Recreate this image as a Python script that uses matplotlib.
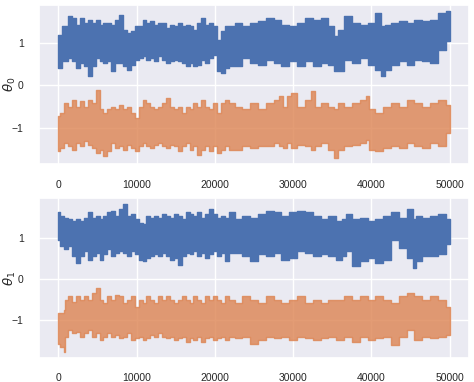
import matplotlib
matplotlib.use("Agg")
import matplotlib.pyplot as plt
import numpy as np
import seaborn as sns

# chain colours (seaborn "deep", orange drawn with alpha)
CHAIN_COLORS = ["#4C72B0", "#DD8452"]
CHAIN_ALPHA = [1.0, 0.8]

# ---- theta_0, chain A (blue) ----
t0a_step = [0, 1000, 1500, 2000, 2500, 3000, 3500, 4000, 4500, 5000, 5500, 6000, 6500, 7000,
            7500, 8000, 8500, 9000, 9500, 10000, 10500, 11000, 11500, 12000, 12500, 13000,
            13500, 14000, 14500, 15000, 15500, 16000, 16500, 17000, 17500, 18000, 18500,
            19000, 19500, 20000, 20500, 21000, 21500, 22000,
            23000, 24000, 25000, 26000, 27000, 28000, 29000, 30000, 31000, 32000, 33000,
            34000, 35000, 35500, 36000, 37000, 38000, 39000, 40000, 41000, 41500, 42000,
            43000, 44000, 45000, 46000, 47000, 48000, 49000, 50000]
t0a_hi = [1.20, 1.40, 1.63, 1.60, 1.43, 1.59, 1.47, 1.55, 1.47, 1.55,
          1.43, 1.47, 1.47, 1.43, 1.55, 1.67, 1.32, 1.24, 1.28, 1.40,
          1.40, 1.55, 1.47, 1.51, 1.43, 1.47, 1.47, 1.35, 1.43, 1.40,
          1.47, 1.40, 1.43, 1.40, 1.32, 1.47, 1.59, 1.43, 1.47, 1.40,
          1.08, 1.28, 1.40, 1.40,
          1.47, 1.40, 1.47, 1.51, 1.59, 1.55, 1.43, 1.40, 1.47, 1.59, 1.55, 1.59, 1.40,
          1.16, 1.32, 1.63, 1.47, 1.43, 1.47, 1.71, 1.40,
          1.43, 1.47, 1.51, 1.47, 1.55, 1.51, 1.55, 1.71, 1.75]
t0a_lo = [0.41, 0.57, 0.65, 0.57, 0.41, 0.53, 0.45, 0.21, 0.45, 0.65,
          0.57, 0.53, 0.57, 0.33, 0.53, 0.53, 0.45, 0.37, 0.49, 0.61,
          0.65, 0.69, 0.61, 0.65, 0.57, 0.69, 0.61, 0.53, 0.57, 0.61,
          0.57, 0.53, 0.45, 0.53, 0.45, 0.49, 0.61, 0.53, 0.65, 0.72,
          0.33, 0.29, 0.41, 0.45,
          0.45, 0.65, 0.53, 0.49, 0.61, 0.53, 0.45, 0.57, 0.45, 0.57, 0.45, 0.53, 0.49,
          0.33, 0.33, 0.61, 0.53, 0.65, 0.49, 0.37, 0.21,
          0.37, 0.49, 0.57, 0.49, 0.61, 0.57, 0.53, 0.84, 1.04]

# ---- theta_0, chain B (orange) ----
t0b_step = list(range(0, 22001, 500)) + [
    23000, 24000, 25000, 26000, 27000, 28000, 28500, 29000, 29500, 30000, 31000, 32000,
    32500, 33000, 34000, 35000, 35500, 36000, 37000, 38000, 39000, 39500, 40000, 41000,
    42000, 43000, 44000, 45000, 46000, 47000, 48000, 49000, 50000]
t0b_hi = [-0.73, -0.65, -0.42, -0.50, -0.34, -0.50, -0.38, -0.50, -0.34, -0.42,
          -0.10, -0.57, -0.65, -0.57, -0.50, -0.57, -0.46, -0.57, -0.50, -0.65,
          -0.77, -0.50, -0.34, -0.42, -0.50, -0.57, -0.50, -0.42, -0.30, -0.50,
          -0.57, -0.50, -0.65, -0.50, -0.57, -0.42, -0.50, -0.34, -0.50, -0.57,
          -0.42, -0.65, -0.42, -0.34, -0.42,
          -0.50, -0.57, -0.42, -0.57, -0.42, -0.34, -0.26, -0.50, -0.26, -0.18, -0.50,
          -0.34, -0.14, -0.50, -0.42, -0.50, -0.57, -0.42, -0.50, -0.42, -0.34, -0.26,
          -0.57, -0.65, -0.50, -0.42, -0.50, -0.34, -0.42, -0.50, -0.42, -0.34, -0.46]
t0b_lo = [-1.56, -1.48, -1.36, -1.44, -1.52, -1.36, -1.44, -1.32, -1.40, -1.48,
          -1.60, -1.52, -1.68, -1.56, -1.36, -1.48, -1.44, -1.52, -1.40, -1.48,
          -1.56, -1.44, -1.36, -1.44, -1.48, -1.40, -1.36, -1.44, -1.48, -1.40,
          -1.44, -1.56, -1.44, -1.36, -1.52, -1.44, -1.64, -1.52, -1.44, -1.56,
          -1.44, -1.60, -1.52, -1.44, -1.52,
          -1.52, -1.44, -1.48, -1.44, -1.44, -1.36, -1.44, -1.48, -1.36, -1.48, -1.40,
          -1.44, -1.52, -1.44, -1.36, -1.52, -1.72, -1.52, -1.44, -1.40, -1.36, -1.28,
          -1.52, -1.56, -1.48, -1.44, -1.48, -1.36, -1.44, -1.48, -1.36, -1.44, -1.13]

# ---- theta_1, chain A (blue) ----
t1a_step = list(range(0, 22001, 500)) + [
    23000, 24000, 25000, 26000, 27000, 28000, 29000, 30000, 31000, 32000, 33000, 34000,
    35000, 36000, 36500, 37000, 38000, 39000, 40000, 41000, 42000, 43000, 44000, 45000,
    45500, 46000, 47000, 48000, 49000, 50000]
t1a_hi = [1.62, 1.53, 1.49, 1.45, 1.41, 1.45, 1.41, 1.49, 1.62, 1.49,
          1.53, 1.45, 1.53, 1.62, 1.66, 1.53, 1.70, 1.82, 1.53, 1.58,
          1.45, 1.37, 1.33, 1.53, 1.49, 1.53, 1.49, 1.58, 1.53, 1.49,
          1.58, 1.53, 1.45, 1.62, 1.58, 1.53, 1.62, 1.49, 1.58, 1.70,
          1.58, 1.49, 1.53, 1.49, 1.62,
          1.45, 1.53, 1.49, 1.58, 1.66, 1.62, 1.53, 1.62, 1.66, 1.62, 1.53, 1.45,
          1.53, 1.41, 1.45, 1.58, 1.45, 1.49, 1.41, 1.45, 1.53, 1.62, 1.49, 1.70,
          1.45, 1.53, 1.49, 1.53, 1.58, 1.45]
t1a_lo = [0.96, 0.80, 0.72, 0.80, 0.56, 0.39, 0.56, 0.68, 0.47, 0.56,
          0.64, 0.47, 0.60, 0.72, 0.56, 0.64, 0.68, 0.64, 0.56, 0.68,
          0.60, 0.47, 0.43, 0.51, 0.56, 0.60, 0.56, 0.64, 0.56, 0.47,
          0.51, 0.35, 0.56, 0.64, 0.60, 0.68, 0.56, 0.64, 0.51, 0.60,
          0.68, 0.56, 0.64, 0.43, 0.64,
          0.64, 0.56, 0.43, 0.60, 0.56, 0.64, 0.47, 0.51, 0.68, 0.64, 0.56, 0.60,
          0.56, 0.47, 0.56, 0.68, 0.31, 0.43, 0.51, 0.39, 0.47, 0.96, 0.76, 0.51,
          0.27, 0.43, 0.56, 0.56, 0.60, 0.84]

# ---- theta_1, chain B (orange) ----
t1b_step = [0, 500, 800] + list(range(1000, 22001, 500)) + list(range(23000, 50001, 1000))
t1b_hi = [-0.83, -0.83, -0.75, -0.51, -0.42, -0.55, -0.42, -0.51, -0.42, -0.51,
          -0.34, -0.22, -0.51, -0.59, -0.42, -0.51, -0.38, -0.42, -0.59, -0.51,
          -0.42, -0.67, -0.51, -0.59, -0.42, -0.51, -0.59, -0.42, -0.51, -0.42,
          -0.51, -0.59, -0.51, -0.42, -0.51, -0.59, -0.42, -0.51, -0.59, -0.42,
          -0.51, -0.42, -0.51, -0.59, -0.42, -0.51,
          -0.59, -0.42, -0.51, -0.59, -0.42, -0.51, -0.59, -0.51, -0.42, -0.59,
          -0.51, -0.59, -0.51, -0.51, -0.42, -0.51, -0.42, -0.51, -0.42, -0.51,
          -0.59, -0.42, -0.34, -0.42, -0.51, -0.42, -0.51, -0.67]
t1b_lo = [-1.57, -1.65, -1.77, -1.40, -1.24, -1.32, -1.28, -1.40, -1.32, -1.24,
          -1.40, -1.32, -1.49, -1.40, -1.32, -1.40, -1.36, -1.44, -1.40, -1.32,
          -1.49, -1.44, -1.40, -1.49, -1.44, -1.36, -1.40, -1.32, -1.40, -1.44,
          -1.40, -1.49, -1.44, -1.40, -1.53, -1.44, -1.49, -1.40, -1.53, -1.44,
          -1.40, -1.49, -1.44, -1.40, -1.49, -1.40,
          -1.44, -1.40, -1.57, -1.49, -1.40, -1.44, -1.40, -1.49, -1.40, -1.44,
          -1.49, -1.44, -1.40, -1.49, -1.40, -1.53, -1.40, -1.49, -1.44, -1.40,
          -1.61, -1.40, -1.24, -1.49, -1.40, -1.44, -1.40, -1.36]

PANELS = [
    (r"$\theta_0$", [(t0a_step, t0a_hi, t0a_lo), (t0b_step, t0b_hi, t0b_lo)], (-1.87, 1.90)),
    (r"$\theta_1$", [(t1a_step, t1a_hi, t1a_lo), (t1b_step, t1b_hi, t1b_lo)], (-1.92, 1.96)),
]


def plot_trace(ax, label, chains, ylim):
    """한 파라미터의 체인 트레이스 (envelope band)."""
    for (step, hi, lo), color, alpha in zip(chains, CHAIN_COLORS, CHAIN_ALPHA):
        assert len(step) == len(hi) == len(lo), (label, len(step), len(hi), len(lo))
        ax.fill_between(step, lo, hi, step="mid", color=color, alpha=alpha,
                        linewidth=1.0, edgecolor=color)
    ax.set_ylabel(label, fontsize=9.5)
    ax.yaxis.set_label_coords(-0.048, 0.5)
    ax.set_xlim(-2500, 52500)
    ax.set_ylim(*ylim)
    ax.set_yticks([-1, 0, 1])
    ax.set_xticks(np.arange(0, 50001, 10000))
    ax.tick_params(labelsize=7.5, pad=5)


sns.set_theme(style="darkgrid")
plt.rcParams["font.family"] = ["Liberation Sans", "DejaVu Sans"]

fig, axes = plt.subplots(2, 1, figsize=(4.74, 3.82), dpi=100)
for ax, (label, chains, ylim) in zip(axes, PANELS):
    plot_trace(ax, label, chains, ylim)

fig.subplots_adjust(left=0.082, right=0.99, top=0.987, bottom=0.063, hspace=0.213)
fig.savefig("out.png", dpi=100)
